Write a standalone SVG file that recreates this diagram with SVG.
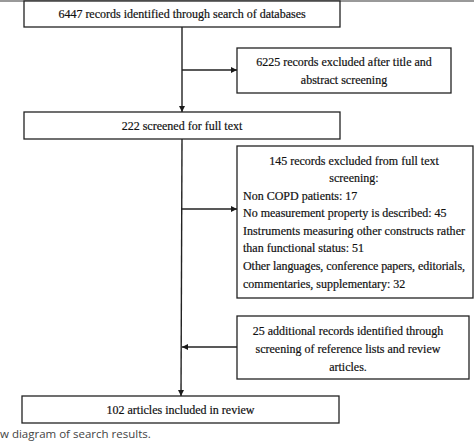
<svg xmlns="http://www.w3.org/2000/svg" width="474" height="443" viewBox="0 0 474 443">
<defs>
<marker id="ah" viewBox="0 0 10 10" refX="10" refY="5" markerWidth="6" markerHeight="6" orient="auto" markerUnits="userSpaceOnUse">
<path d="M0,0 L10,5 L0,10 z" fill="#1a1a1a"/>
</marker>
</defs>
<style>
.box{fill:#fff;stroke:#222;stroke-width:1.3}
.t{font-family:"Liberation Serif","Times New Roman",serif;font-size:12px;fill:#111;stroke:#111;stroke-width:0.2}
.c{text-anchor:middle}
.ln{stroke:#222;stroke-width:1.4;fill:none}
.cap{font-family:"Open Sans","Liberation Sans",sans-serif;font-size:11.5px;fill:#444}
</style>
<rect x="0" y="0" width="474" height="443" fill="#fff"/>
<rect x="0" y="0" width="474" height="2" fill="#999"/>
<g id="connectors">
<line class="ln" x1="182" y1="27" x2="182" y2="112" marker-end="url(#ah)"/>
<line class="ln" x1="182" y1="70" x2="237" y2="70" marker-end="url(#ah)"/>
<line class="ln" x1="182" y1="139" x2="181" y2="396" marker-end="url(#ah)"/>
<line class="ln" x1="182" y1="209" x2="237" y2="209" marker-end="url(#ah)"/>
<line class="ln" x1="237" y1="347" x2="182" y2="347" marker-end="url(#ah)"/>
</g>
<g id="n1">
<rect class="box" x="24" y="1" width="316" height="26"/>
<text class="t c" x="182" y="18">6447 records identified through search of databases</text>
</g>
<g id="n2">
<rect class="box" x="237" y="48" width="214" height="45"/>
<text class="t c" x="344" y="66">6225 records excluded after title and</text>
<text class="t c" x="344" y="84">abstract screening</text>
</g>
<g id="n3">
<rect class="box" x="24" y="112" width="316" height="27"/>
<text class="t c" x="182" y="130">222 screened for full text</text>
</g>
<g id="n4">
<rect class="box" x="237" y="146" width="236" height="152"/>
<text class="t c" x="354" y="165">145 records excluded from full text</text>
<text class="t c" x="354" y="182">screening:</text>
<text class="t" x="243" y="200">Non COPD patients: 17</text>
<text class="t" x="243" y="217">No measurement property is described: 45</text>
<text class="t" x="243" y="235" textLength="222" lengthAdjust="spacing">Instruments measuring other constructs rather</text>
<text class="t" x="243" y="252">than functional status: 51</text>
<text class="t" x="243" y="270" textLength="222" lengthAdjust="spacing">Other languages, conference papers, editorials,</text>
<text class="t" x="243" y="288">commentaries, supplementary: 32</text>
</g>
<g id="n5">
<rect class="box" x="237" y="316" width="232" height="63"/>
<text class="t c" x="348" y="335">25 additional records identified through</text>
<text class="t c" x="348" y="353">screening of reference lists and review</text>
<text class="t c" x="348" y="371">articles.</text>
</g>
<g id="n6">
<rect class="box" x="22" y="396" width="317" height="27"/>
<text class="t c" x="180.5" y="414">102 articles included in review</text>
</g>
<text class="cap" x="0" y="438">w diagram of search results.</text>
</svg>
